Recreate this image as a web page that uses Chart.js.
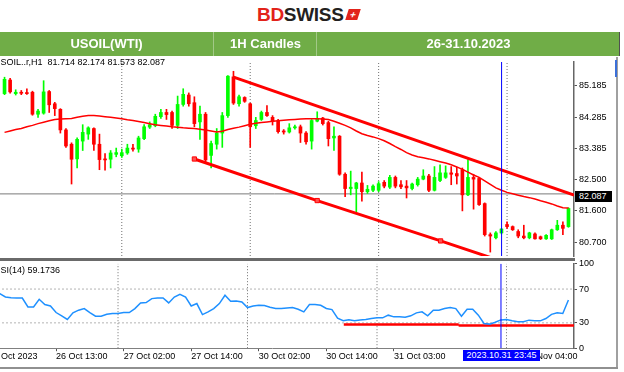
<!DOCTYPE html>
<html>
<head>
<meta charset="utf-8">
<title>USOIL(WTI) 1H Candles</title>
<script src="https://cdn.jsdelivr.net/npm/chart.js@4.4.0/dist/chart.umd.min.js"></script>
<style>
  body { margin: 0; width: 624px; height: 372px; overflow: hidden; position: relative; background: #fff; font-family: 'Liberation Sans', Arial, sans-serif; }
  canvas { position: absolute; left: -30px; }
  #price { top: 57px; }
  #rsi { top: 250px; }
  #logo { position: absolute; left: 257px; top: 5px; font-size: 19px; font-weight: bold; line-height: 20px; letter-spacing: -0.3px; white-space: nowrap; }
  #logo .bd { color: #e2231a; }
  #logo .sw { color: #231f20; }
  #logo .flag { display: inline-block; width: 12px; height: 11px; margin-left: 3px; background: #e2231a; color: #fff; font-size: 10px; line-height: 11px; text-align: center; transform: skewX(-18deg); vertical-align: 3px; }
  #bar { position: absolute; left: 0; top: 32px; width: 619px; height: 24px; background: #70ad47; border-right: 1px solid #505050; }
  #bar div { position: absolute; top: 0; height: 24px; line-height: 24px; text-align: center; color: #fff; font-weight: bold; font-size: 13px; }
  #bar .c1 { left: 0; width: 213px; }
  #bar .c2 { left: 213px; width: 103px; border-left: 1px solid rgba(255,255,255,0.35); }
  #bar .c3 { left: 316px; width: 303px; border-left: 1px solid rgba(255,255,255,0.35); }
  .note { position: absolute; font-size: 9px; line-height: 10px; color: #000; white-space: pre; }
  .box { position: absolute; font-size: 9px; color: #fff; white-space: pre; }
  .rule { position: absolute; background: #7a7a7a; }
</style>
</head>
<body>
<canvas id="price" width="654" height="204" style="width:654px;height:204px"></canvas>
<canvas id="rsi" width="654" height="122" style="width:654px;height:122px"></canvas>

<div id="logo"><span class="bd">BD</span><span class="sw">SWISS</span><span class="flag">+</span></div>
<div id="bar"><div class="c1">USOIL(WTI)</div><div class="c2">1H Candles</div><div class="c3">26-31.10.2023</div></div>

<div class="note" style="left:-6px;top:57px">USOIL..r,H1  81.714 82.174 81.573 82.087</div>
<div class="note" style="left:-6px;top:265px">RSI(14) 59.1736</div>
<div class="box" style="left:575px;top:191px;width:37px;height:11px;line-height:11px;background:#000;padding-left:4px;box-sizing:border-box">82.087</div>
<div class="box" style="left:463px;top:350px;width:77px;height:11px;line-height:11px;background:#0000ff;text-align:center">2023.10.31 23:45</div>
<div class="rule" style="left:0;top:258px;width:575px;height:3px;background:#6a6a6a"></div>
<div class="rule" style="left:616px;top:57px;width:2px;height:312px;background:#a0a0a0"></div>
<div class="rule" style="left:0;top:367px;width:618px;height:2px;background:#909090"></div>
<div class="rule" style="left:615px;top:60px;width:2px;height:17px;background:#3b6fd8"></div>

<script>
const opens = [84.96, 85.35, 84.96, 85.00, 84.99, 85.00, 84.37, 84.40, 85.02, 84.67,
    84.51, 83.92, 83.51, 83.09, 83.60, 83.80, 83.96, 83.51, 83.09, 83.08,
    83.22, 83.18, 83.26, 83.40, 83.37, 83.67, 84.00, 84.04, 84.30, 84.42,
    84.42, 84.05, 84.65, 84.92, 84.70, 84.15, 84.37, 83.19, 83.51, 83.83,
    84.33, 85.44, 84.67, 84.85, 84.67, 84.04, 84.22, 84.42, 84.28, 84.19,
    83.89, 83.86, 83.98, 84.01, 83.83, 83.60, 84.17, 84.26, 84.13, 83.69,
    83.74, 82.65, 82.24, 82.24, 82.40, 82.15, 82.19, 82.19, 82.42, 82.28,
    82.56, 82.35, 82.31, 82.24, 82.35, 82.51, 82.60, 82.19, 82.47, 82.56,
    82.69, 82.67, 82.78, 82.06, 82.56, 82.53, 81.81, 80.92, 80.83, 80.97,
    81.21, 81.15, 81.01, 80.88, 80.83, 80.94, 80.86, 80.80, 80.80, 81.06,
    81.19, 81.15];
const highs = [85.43, 85.40, 85.07, 85.05, 85.10, 85.03, 84.51, 85.33, 85.05, 84.71,
    84.53, 83.96, 83.55, 83.69, 84.07, 84.01, 83.98, 83.80, 83.24, 83.33,
    83.40, 83.37, 83.51, 83.51, 83.74, 84.07, 84.15, 84.37, 84.51, 84.51,
    84.46, 84.89, 85.10, 84.98, 84.87, 84.60, 84.42, 83.60, 83.96, 84.42,
    85.48, 85.60, 84.92, 84.87, 84.69, 84.28, 84.46, 84.62, 84.33, 84.22,
    83.93, 84.10, 84.06, 84.06, 83.87, 84.22, 84.44, 84.28, 84.17, 84.01,
    83.76, 82.69, 82.74, 82.42, 82.71, 82.33, 82.35, 82.44, 82.47, 82.62,
    82.60, 82.47, 82.47, 82.40, 82.56, 82.78, 82.65, 82.87, 82.92, 82.89,
    82.87, 82.85, 82.83, 83.07, 82.65, 82.56, 81.83, 80.97, 81.01, 81.10,
    81.29, 81.17, 81.06, 81.19, 80.99, 80.97, 80.88, 80.92, 81.08, 81.33,
    81.29, 81.69];
const lows = [84.93, 84.97, 84.92, 84.93, 84.94, 84.34, 84.28, 84.37, 84.42, 84.33,
    83.83, 83.42, 82.37, 82.83, 83.33, 83.65, 83.33, 82.78, 82.77, 82.83,
    83.15, 83.13, 83.22, 83.31, 83.28, 83.64, 83.96, 84.01, 84.25, 84.22,
    83.96, 83.96, 84.60, 84.60, 84.01, 83.65, 82.97, 82.83, 83.37, 83.42,
    84.28, 84.65, 84.60, 84.71, 83.42, 83.96, 84.19, 84.31, 84.06, 83.83,
    83.80, 83.83, 83.94, 83.56, 83.51, 83.37, 84.15, 84.06, 83.46, 83.33,
    82.62, 82.01, 82.06, 81.56, 81.88, 82.10, 82.15, 82.15, 82.26, 82.24,
    82.26, 82.24, 81.97, 82.20, 82.31, 82.49, 82.15, 82.17, 82.44, 82.53,
    82.35, 82.37, 81.60, 82.04, 81.65, 81.76, 80.88, 80.42, 80.80, 80.94,
    81.10, 81.04, 80.83, 80.80, 80.80, 80.79, 80.78, 80.78, 80.78, 81.04,
    80.92, 81.13];
const closes = [85.37, 85.01, 85.00, 84.97, 84.96, 84.37, 84.46, 85.01, 84.64, 84.53,
    83.92, 83.46, 83.08, 83.65, 83.85, 83.98, 83.51, 83.07, 83.06, 83.26,
    83.27, 83.27, 83.40, 83.37, 83.69, 84.01, 84.07, 84.31, 84.42, 84.36,
    84.05, 84.65, 84.94, 84.67, 84.10, 84.37, 83.06, 83.53, 83.83, 84.33,
    85.46, 84.69, 84.87, 84.74, 84.01, 84.19, 84.42, 84.33, 84.17, 83.87,
    83.86, 83.98, 84.01, 83.83, 83.58, 84.19, 84.24, 84.10, 83.67, 83.74,
    82.65, 82.24, 82.28, 82.40, 82.15, 82.22, 82.31, 82.38, 82.31, 82.56,
    82.31, 82.29, 82.26, 82.37, 82.51, 82.60, 82.19, 82.56, 82.69, 82.69,
    82.65, 82.60, 82.06, 82.56, 82.51, 81.78, 80.92, 80.88, 80.97, 81.08,
    81.15, 81.06, 80.88, 80.83, 80.97, 80.80, 80.80, 80.90, 81.06, 81.19,
    81.10, 81.67];
const maLine = [83.85, 83.89, 83.93, 83.96, 84.01, 84.05, 84.10, 84.14, 84.18, 84.22,
    84.23, 84.24, 84.25, 84.28, 84.31, 84.33, 84.33, 84.32, 84.30, 84.28,
    84.26, 84.24, 84.21, 84.19, 84.16, 84.13, 84.10, 84.07, 84.05, 84.03,
    84.01, 84.00, 83.98, 83.97, 83.96, 83.94, 83.92, 83.89, 83.86, 83.88,
    83.93, 83.97, 84.00, 84.04, 84.08, 84.11, 84.13, 84.15, 84.17, 84.18,
    84.20, 84.21, 84.22, 84.23, 84.24, 84.24, 84.24, 84.23, 84.22, 84.17,
    84.11, 84.05, 83.98, 83.89, 83.81, 83.76, 83.72, 83.67, 83.61, 83.53,
    83.44, 83.36, 83.27, 83.20, 83.15, 83.12, 83.09, 83.05, 83.01, 82.97,
    82.92, 82.86, 82.79, 82.71, 82.63, 82.56, 82.46, 82.36, 82.26, 82.19,
    82.13, 82.09, 82.05, 82.01, 81.98, 81.94, 81.89, 81.85, 81.80, 81.74,
    81.69, 81.68];
const rsiValues = [64.5, 60.6, 59.8, 59.5, 59.3, 48.9, 48.9, 57.9, 51.6, 50.0,
    42.2, 38.3, 34.0, 41.8, 45.0, 46.9, 42.2, 37.9, 37.9, 40.2,
    41.0, 41.0, 42.2, 42.2, 46.9, 53.6, 54.0, 58.7, 59.5, 59.5,
    53.6, 60.6, 63.8, 60.6, 50.0, 52.8, 39.8, 43.0, 46.9, 52.8,
    62.6, 55.5, 55.9, 54.7, 48.1, 50.0, 50.8, 50.4, 48.5, 46.9,
    46.9, 47.7, 48.1, 46.1, 43.0, 51.6, 51.6, 50.8, 47.0, 45.7,
    35.5, 32.6, 33.8, 32.6, 33.5, 34.0, 35.1, 35.9, 35.9, 39.1,
    37.1, 37.1, 36.7, 38.3, 41.8, 43.0, 38.3, 45.0, 45.0, 46.9,
    48.1, 46.9, 37.9, 46.1, 46.1, 39.1, 29.3, 28.5, 30.8, 33.5,
    34.0, 32.4, 31.2, 31.2, 33.2, 32.4, 32.4, 35.1, 40.0, 41.8,
    41.0, 57.0];

const priceTicks = [85.185, 84.285, 83.385, 82.5, 81.6, 80.7];
const rsiTicks = [0, 30, 70, 100];
const rsiLevels = [30, 70];
const timeTickBars = [-2, 10, 22, 34, 46, 58, 70, 94];
const timeTickLabels = ['26 Oct 2023', '26 Oct 13:00', '27 Oct 02:00', '27 Oct 14:00',
    '30 Oct 02:00', '30 Oct 14:00', '31 Oct 03:00', '1 Nov 04:00'];
const daySeparators = [21, 44, 67, 90];
const upperTrend = [{x: 40.9, y: 85.44}, {x: 102, y: 82.05}];
const lowerTrend = [{x: 34, y: 83.087}, {x: 56, y: 81.896}, {x: 78.1, y: 80.74}, {x: 92, y: 80.0}];
const rsiFloor = [{x: 61.1, y: 28.1}, {x: 81.5, y: 28.1}, {x: 81.5, y: null}, {x: 81.5, y: 27.0}, {x: 102, y: 27.0}];
const lastPrice = 82.087;
const cursorBar = 89.02;

const xMin = -5.29, xMax = 101.99;
const priceMin = 80.308, priceMax = 85.866;

Chart.defaults.font.family = "'Liberation Sans', Arial, sans-serif";
Chart.defaults.font.size = 9;
Chart.defaults.color = '#000';

const barIndex = opens.map((_, i) => i);
const candleColors = barIndex.map(i => closes[i] >= opens[i] ? '#00ff00' : '#ff0000');

function vLine(x, y0, y1, color, dash, order) {
    return {
        type: 'line',
        data: [{x: x, y: y0}, {x: x, y: y1}],
        borderColor: color,
        borderWidth: 1,
        borderDash: dash,
        pointRadius: 0,
        order: order
    };
}

function hLine(y, color, width, dash, order) {
    return {
        type: 'line',
        data: [{x: xMin, y: y}, {x: xMax, y: y}],
        borderColor: color,
        borderWidth: width,
        borderDash: dash,
        pointRadius: 0,
        order: order
    };
}

function rightAxis(min, max, ticks, format) {
    return {
        position: 'right',
        min: min,
        max: max,
        afterBuildTicks: s => { s.ticks = ticks.map(v => ({ value: v })); },
        afterFit: s => { s.width = 50; s.paddingTop = 0; s.paddingBottom = 0; },
        ticks: { callback: format, padding: 2, autoSkip: false },
        grid: { drawOnChartArea: false, tickLength: 3, color: '#555' },
        border: { color: '#666', width: 1.5 }
    };
}

new Chart(document.getElementById('price'), {
    type: 'bar',
    data: {
        datasets: [
            ...daySeparators.map(b => vLine(b, priceMin, priceMax, '#707070', [1, 2], 10)),
            hLine(lastPrice, '#7a7a7a', 1, [], 9),
            {
                label: 'wicks',
                data: barIndex.map(i => ({ x: i, y: [lows[i], highs[i]] })),
                backgroundColor: candleColors,
                barThickness: 1,
                grouped: false,
                order: 6
            },
            {
                label: 'bodies',
                data: barIndex.map(i => ({ x: i, y: [opens[i], closes[i]] })),
                backgroundColor: candleColors,
                barThickness: 3,
                minBarLength: 1,
                grouped: false,
                order: 5
            },
            {
                type: 'line',
                data: maLine.map((v, i) => ({ x: i, y: v })),
                borderColor: '#ff0000',
                borderWidth: 1.5,
                pointRadius: 0,
                order: 3
            },
            {
                type: 'line',
                data: upperTrend,
                borderColor: '#ff0000',
                borderWidth: 3,
                pointRadius: 0,
                order: 2
            },
            {
                type: 'line',
                data: lowerTrend,
                borderColor: '#ff0000',
                borderWidth: 3,
                pointStyle: 'rect',
                pointRadius: [3, 3, 3, 0],
                pointBackgroundColor: '#ff5050',
                pointBorderColor: '#ff0000',
                pointBorderWidth: 1,
                order: 2
            },
            vLine(cursorBar, priceMin, priceMax, '#0000ff', [], 1)
        ]
    },
    options: {
        responsive: false,
        animation: false,
        layout: { padding: 0 },
        plugins: { legend: { display: false }, tooltip: { enabled: false } },
        scales: {
            x: { type: 'linear', min: xMin, max: xMax, offset: false, display: false },
            y: rightAxis(priceMin, priceMax, priceTicks, v => v.toFixed(3))
        }
    }
});

new Chart(document.getElementById('rsi'), {
    type: 'line',
    data: {
        datasets: [
            ...daySeparators.map(b => vLine(b, 0, 100, '#707070', [1, 2], 10)),
            ...rsiLevels.map(v => hLine(v, '#b4b4b4', 1, [2, 2], 9)),
            {
                data: rsiFloor,
                borderColor: '#ff0000',
                borderWidth: 2.5,
                pointRadius: 0,
                spanGaps: false,
                order: 4
            },
            {
                data: rsiValues.map((v, i) => ({ x: i, y: v })),
                borderColor: '#1e90ff',
                borderWidth: 1.5,
                pointRadius: 0,
                order: 3
            },
            vLine(cursorBar, 0, 100, '#0000ff', [], 1)
        ]
    },
    options: {
        responsive: false,
        animation: false,
        layout: { padding: { top: 13.7, left: 0, right: 0, bottom: 0 } },
        plugins: { legend: { display: false }, tooltip: { enabled: false } },
        scales: {
            x: {
                type: 'linear',
                min: xMin,
                max: xMax,
                offset: false,
                afterBuildTicks: s => { s.ticks = timeTickBars.map(v => ({ value: v })); },
                afterFit: s => { s.height = 23.8; s.paddingLeft = 0; s.paddingRight = 0; },
                ticks: {
                    callback: v => timeTickLabels[timeTickBars.indexOf(v)],
                    align: 'start',
                    maxRotation: 0,
                    autoSkip: false,
                    padding: 0
                },
                grid: { drawOnChartArea: false, tickLength: 3, color: '#555' },
                border: { color: '#808080', width: 1 }
            },
            y: rightAxis(0, 100, rsiTicks, v => String(v))
        }
    }
});
</script>
</body>
</html>
